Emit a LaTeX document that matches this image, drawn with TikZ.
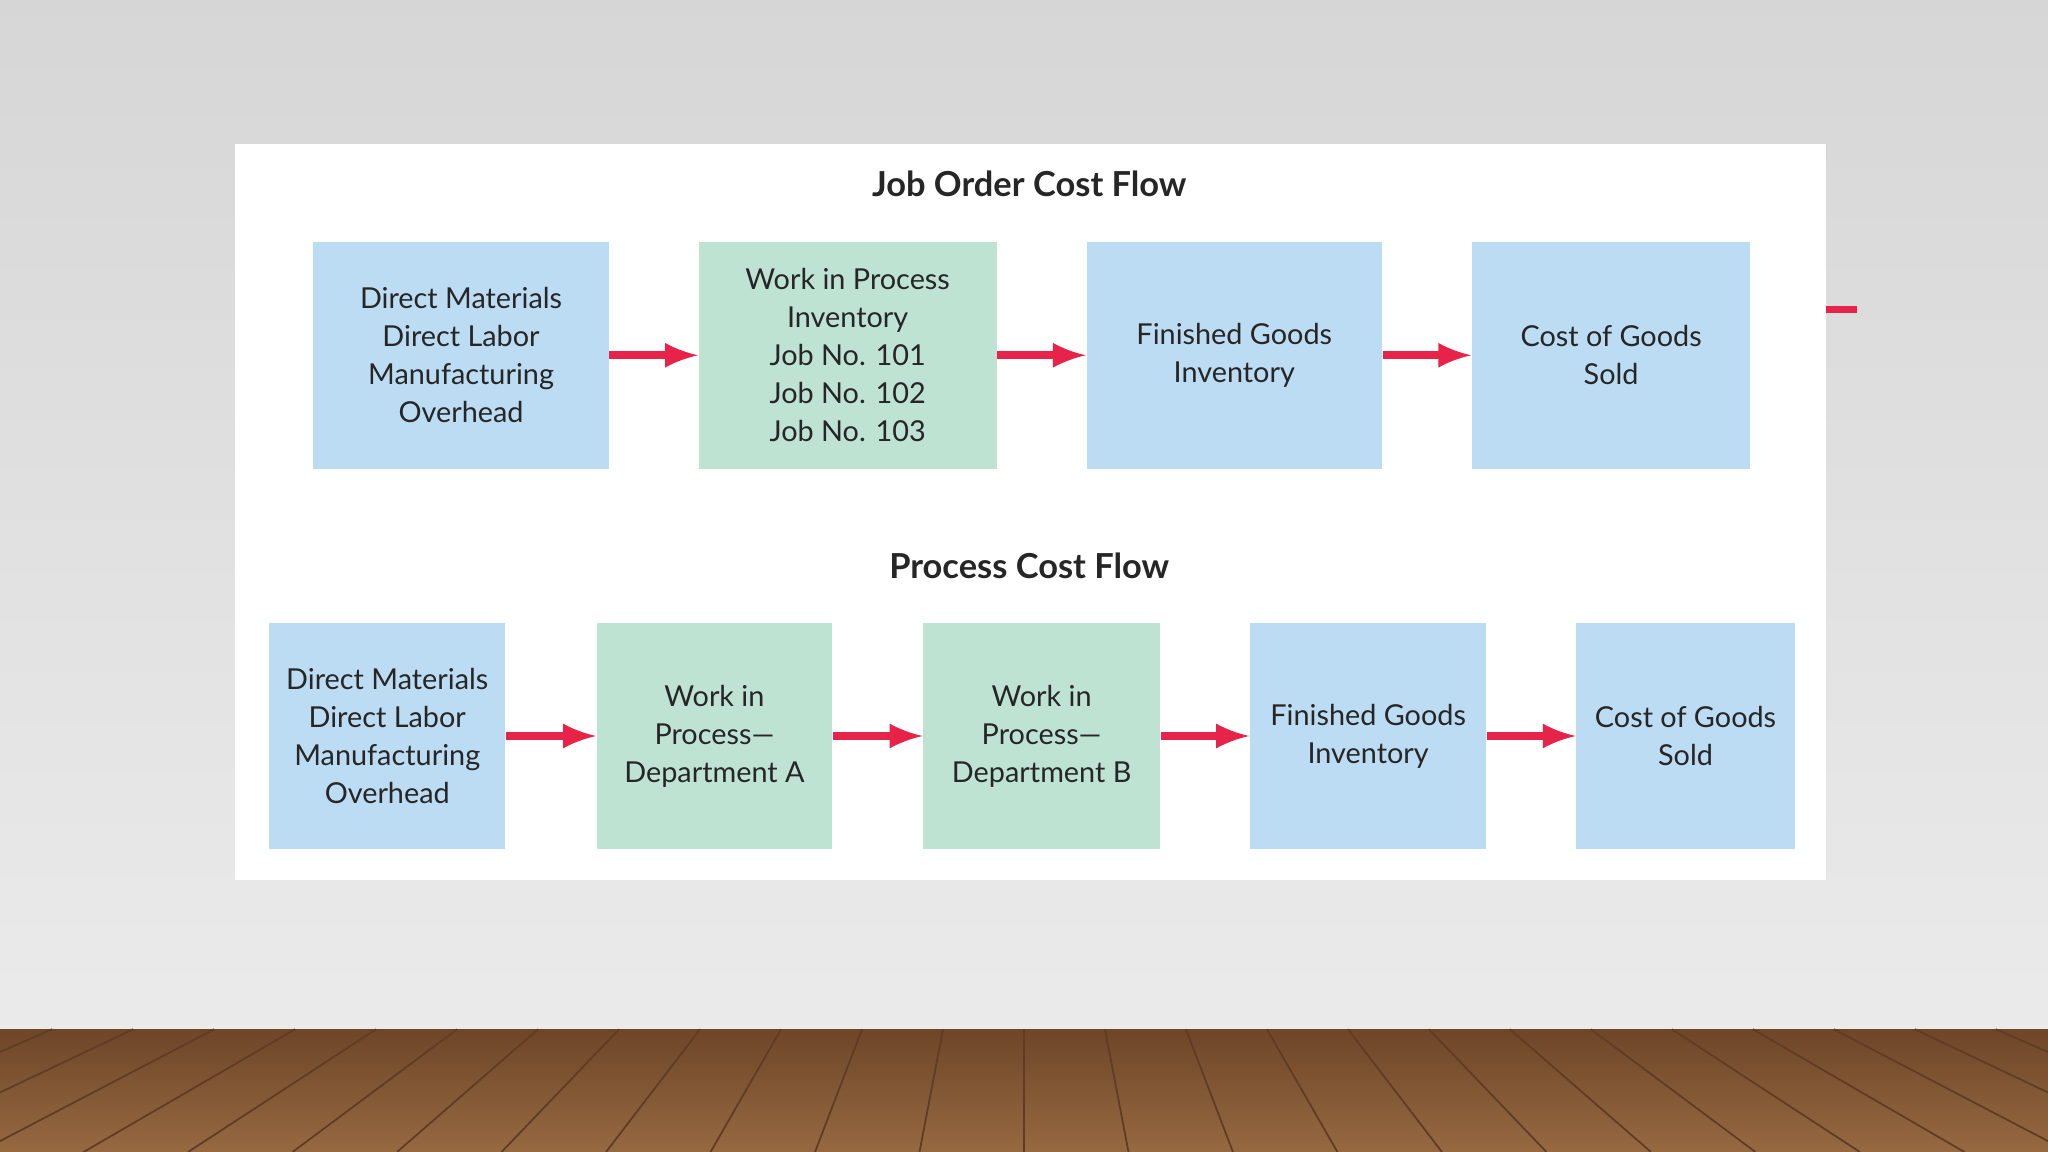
\documentclass[tikz,border=0pt]{standalone}
\usepackage{fontspec}
\setmainfont{Lato}
\definecolor{cblue}{RGB}{188,220,243}
\definecolor{cgreen}{RGB}{190,227,211}
\definecolor{cred}{RGB}{232,35,74}
\definecolor{wood1}{RGB}{110,70,40}
\definecolor{wood2}{RGB}{150,105,65}
\definecolor{woodl}{RGB}{95,60,35}
\begin{document}
\begin{tikzpicture}[x=0.013061cm,y=-0.013061cm,
  box/.style={draw=none,inner sep=0pt,align=center,font=\fontsize{8.2}{10.8}\selectfont,text=black!85},
  bl/.style={fill=cblue},
  gr/.style={fill=cgreen},
  arr/.style={draw=cred,line width=2.2pt,-latex},
  ttl/.style={font=\bfseries\fontsize{9.8}{12}\selectfont,text=black!85}]
\useasboundingbox (0,0) rectangle (1568,882);
\shade[top color=black!16,bottom color=black!8] (0,0) rectangle (1568,788);
\shade[top color=wood1,bottom color=wood2] (0,788) rectangle (1568,882);
\foreach \i in {-12,...,12}{\draw[woodl,line width=0.5pt] (784+\i*62,788) -- (784+\i*80,882);}
\fill[white] (180,110) rectangle (1398,674);
\draw[cred,line width=2pt] (1398,237) -- (1422,237);
\node[ttl] (t1) at (788,141) {Job Order Cost Flow};
\node[ttl] (t2) at (788,433) {Process Cost Flow};
\node[box,bl,minimum width=226*0.013061cm,minimum height=174*0.013061cm] (a1) at (353,272) {Direct Materials\\Direct Labor\\Manufacturing\\Overhead};
\node[box,gr,minimum width=228*0.013061cm,minimum height=174*0.013061cm] (a2) at (649,272) {Work in Process\\Inventory\\Job No. 101\\Job No. 102\\Job No. 103};
\node[box,bl,minimum width=226*0.013061cm,minimum height=174*0.013061cm] (a3) at (945,272) {Finished Goods\\Inventory};
\node[box,bl,minimum width=213*0.013061cm,minimum height=174*0.013061cm] (a4) at (1233.5,272) {Cost of Goods\\Sold};
\draw[arr] (a1) -- (a2); \draw[arr] (a2) -- (a3); \draw[arr] (a3) -- (a4);
\node[box,bl,minimum width=181*0.013061cm,minimum height=173*0.013061cm] (b1) at (296.5,563.5) {Direct Materials\\Direct Labor\\Manufacturing\\Overhead};
\node[box,gr,minimum width=180*0.013061cm,minimum height=173*0.013061cm] (b2) at (547,563.5) {Work in\\Process---\\Department A};
\node[box,gr,minimum width=181*0.013061cm,minimum height=173*0.013061cm] (b3) at (797.5,563.5) {Work in\\Process---\\Department B};
\node[box,bl,minimum width=181*0.013061cm,minimum height=173*0.013061cm] (b4) at (1047.5,563.5) {Finished Goods\\Inventory};
\node[box,bl,minimum width=167*0.013061cm,minimum height=173*0.013061cm] (b5) at (1290.5,563.5) {Cost of Goods\\Sold};
\draw[arr] (b1) -- (b2); \draw[arr] (b2) -- (b3); \draw[arr] (b3) -- (b4); \draw[arr] (b4) -- (b5);
\end{tikzpicture}
\end{document}
